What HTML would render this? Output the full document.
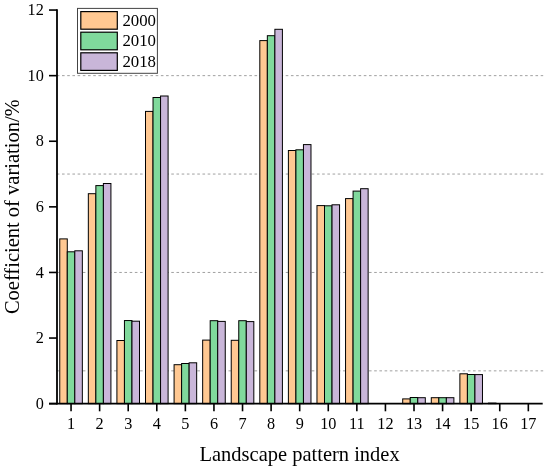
<!DOCTYPE html>
<html><head><meta charset="utf-8"><style>
html,body{margin:0;padding:0;background:#fff;width:550px;height:469px;overflow:hidden;}
svg{display:block;}
text{font-family:"Liberation Serif","Times New Roman",serif;fill:#000;}
.tk{font-size:17.5px;}
.tt{font-size:20.6px;}
.ty{font-size:20.5px;}
.lg{font-size:17.5px;}
</style></head><body>
<svg width="550" height="469" viewBox="0 0 550 469">
<rect x="0" y="0" width="550" height="469" fill="#fff"/>
<line x1="56.8" y1="370.85" x2="543.2" y2="370.85" stroke="#a0a0a0" stroke-width="1" stroke-dasharray="2.6 2.603"/>
<line x1="56.8" y1="272.45" x2="543.2" y2="272.45" stroke="#a0a0a0" stroke-width="1" stroke-dasharray="2.6 2.603"/>
<line x1="56.8" y1="174.05" x2="543.2" y2="174.05" stroke="#a0a0a0" stroke-width="1" stroke-dasharray="2.6 2.603"/>
<line x1="56.8" y1="75.65" x2="543.2" y2="75.65" stroke="#a0a0a0" stroke-width="1" stroke-dasharray="2.6 2.603"/>
<rect x="59.75" y="238.90" width="7.53" height="164.75" fill="#FFC892" stroke="#000" stroke-width="1"/>
<rect x="67.28" y="251.80" width="7.53" height="151.85" fill="#80D99C" stroke="#000" stroke-width="1"/>
<rect x="74.81" y="250.80" width="7.53" height="152.85" fill="#C9B6D9" stroke="#000" stroke-width="1"/>
<rect x="88.33" y="193.70" width="7.53" height="209.95" fill="#FFC892" stroke="#000" stroke-width="1"/>
<rect x="95.86" y="185.60" width="7.53" height="218.05" fill="#80D99C" stroke="#000" stroke-width="1"/>
<rect x="103.39" y="183.50" width="7.53" height="220.15" fill="#C9B6D9" stroke="#000" stroke-width="1"/>
<rect x="116.91" y="340.50" width="7.53" height="63.15" fill="#FFC892" stroke="#000" stroke-width="1"/>
<rect x="124.44" y="320.55" width="7.53" height="83.10" fill="#80D99C" stroke="#000" stroke-width="1"/>
<rect x="131.97" y="321.20" width="7.53" height="82.45" fill="#C9B6D9" stroke="#000" stroke-width="1"/>
<rect x="145.50" y="111.40" width="7.53" height="292.25" fill="#FFC892" stroke="#000" stroke-width="1"/>
<rect x="153.03" y="97.50" width="7.53" height="306.15" fill="#80D99C" stroke="#000" stroke-width="1"/>
<rect x="160.56" y="96.00" width="7.53" height="307.65" fill="#C9B6D9" stroke="#000" stroke-width="1"/>
<rect x="174.08" y="364.70" width="7.53" height="38.95" fill="#FFC892" stroke="#000" stroke-width="1"/>
<rect x="181.61" y="363.50" width="7.53" height="40.15" fill="#80D99C" stroke="#000" stroke-width="1"/>
<rect x="189.14" y="362.80" width="7.53" height="40.85" fill="#C9B6D9" stroke="#000" stroke-width="1"/>
<rect x="202.66" y="340.10" width="7.53" height="63.55" fill="#FFC892" stroke="#000" stroke-width="1"/>
<rect x="210.19" y="320.70" width="7.53" height="82.95" fill="#80D99C" stroke="#000" stroke-width="1"/>
<rect x="217.72" y="321.40" width="7.53" height="82.25" fill="#C9B6D9" stroke="#000" stroke-width="1"/>
<rect x="231.23" y="340.30" width="7.53" height="63.35" fill="#FFC892" stroke="#000" stroke-width="1"/>
<rect x="238.76" y="320.70" width="7.53" height="82.95" fill="#80D99C" stroke="#000" stroke-width="1"/>
<rect x="246.29" y="321.60" width="7.53" height="82.05" fill="#C9B6D9" stroke="#000" stroke-width="1"/>
<rect x="259.81" y="40.60" width="7.53" height="363.05" fill="#FFC892" stroke="#000" stroke-width="1"/>
<rect x="267.34" y="35.70" width="7.53" height="367.95" fill="#80D99C" stroke="#000" stroke-width="1"/>
<rect x="274.88" y="29.30" width="7.53" height="374.35" fill="#C9B6D9" stroke="#000" stroke-width="1"/>
<rect x="288.39" y="150.50" width="7.53" height="253.15" fill="#FFC892" stroke="#000" stroke-width="1"/>
<rect x="295.92" y="149.80" width="7.53" height="253.85" fill="#80D99C" stroke="#000" stroke-width="1"/>
<rect x="303.45" y="144.60" width="7.53" height="259.05" fill="#C9B6D9" stroke="#000" stroke-width="1"/>
<rect x="316.97" y="205.60" width="7.53" height="198.05" fill="#FFC892" stroke="#000" stroke-width="1"/>
<rect x="324.50" y="205.80" width="7.53" height="197.85" fill="#80D99C" stroke="#000" stroke-width="1"/>
<rect x="332.03" y="204.80" width="7.53" height="198.85" fill="#C9B6D9" stroke="#000" stroke-width="1"/>
<rect x="345.55" y="198.60" width="7.53" height="205.05" fill="#FFC892" stroke="#000" stroke-width="1"/>
<rect x="353.08" y="191.10" width="7.53" height="212.55" fill="#80D99C" stroke="#000" stroke-width="1"/>
<rect x="360.61" y="188.70" width="7.53" height="214.95" fill="#C9B6D9" stroke="#000" stroke-width="1"/>
<rect x="402.71" y="398.90" width="7.53" height="4.75" fill="#FFC892" stroke="#000" stroke-width="1"/>
<rect x="410.24" y="397.50" width="7.53" height="6.15" fill="#80D99C" stroke="#000" stroke-width="1"/>
<rect x="417.77" y="397.70" width="7.53" height="5.95" fill="#C9B6D9" stroke="#000" stroke-width="1"/>
<rect x="431.29" y="397.70" width="7.53" height="5.95" fill="#FFC892" stroke="#000" stroke-width="1"/>
<rect x="438.82" y="397.70" width="7.53" height="5.95" fill="#80D99C" stroke="#000" stroke-width="1"/>
<rect x="446.35" y="397.70" width="7.53" height="5.95" fill="#C9B6D9" stroke="#000" stroke-width="1"/>
<rect x="459.88" y="373.80" width="7.53" height="29.85" fill="#FFC892" stroke="#000" stroke-width="1"/>
<rect x="467.40" y="374.50" width="7.53" height="29.15" fill="#80D99C" stroke="#000" stroke-width="1"/>
<rect x="474.94" y="374.60" width="7.53" height="29.05" fill="#C9B6D9" stroke="#000" stroke-width="1"/>
<rect x="488.45" y="403.10" width="7.53" height="0.55" fill="#FFC892" stroke="#000" stroke-width="1"/>
<line x1="57" y1="9.2" x2="57" y2="404.45" stroke="#000" stroke-width="1.8"/>
<line x1="49" y1="403.65" x2="542.7" y2="403.65" stroke="#000" stroke-width="1.8"/>
<line x1="49" y1="403.65" x2="57" y2="403.65" stroke="#000" stroke-width="1.6"/>
<text transform="translate(43.8,408.75) scale(0.93,1)" text-anchor="end" class="tk">0</text>
<line x1="49" y1="338.05" x2="57" y2="338.05" stroke="#000" stroke-width="1.6"/>
<text transform="translate(43.8,343.15) scale(0.93,1)" text-anchor="end" class="tk">2</text>
<line x1="49" y1="272.45" x2="57" y2="272.45" stroke="#000" stroke-width="1.6"/>
<text transform="translate(43.8,277.55) scale(0.93,1)" text-anchor="end" class="tk">4</text>
<line x1="49" y1="206.85" x2="57" y2="206.85" stroke="#000" stroke-width="1.6"/>
<text transform="translate(43.8,211.95) scale(0.93,1)" text-anchor="end" class="tk">6</text>
<line x1="49" y1="141.25" x2="57" y2="141.25" stroke="#000" stroke-width="1.6"/>
<text transform="translate(43.8,146.35) scale(0.93,1)" text-anchor="end" class="tk">8</text>
<line x1="49" y1="75.65" x2="57" y2="75.65" stroke="#000" stroke-width="1.6"/>
<text transform="translate(43.8,80.75) scale(0.93,1)" text-anchor="end" class="tk">10</text>
<line x1="49" y1="10.05" x2="57" y2="10.05" stroke="#000" stroke-width="1.6"/>
<text transform="translate(43.8,15.15) scale(0.93,1)" text-anchor="end" class="tk">12</text>
<line x1="71.05" y1="403.65" x2="71.05" y2="411.3" stroke="#000" stroke-width="1.6"/>
<text transform="translate(71.05,429.1) scale(0.93,1)" text-anchor="middle" class="tk">1</text>
<line x1="99.63" y1="403.65" x2="99.63" y2="411.3" stroke="#000" stroke-width="1.6"/>
<text transform="translate(99.63,429.1) scale(0.93,1)" text-anchor="middle" class="tk">2</text>
<line x1="128.21" y1="403.65" x2="128.21" y2="411.3" stroke="#000" stroke-width="1.6"/>
<text transform="translate(128.21,429.1) scale(0.93,1)" text-anchor="middle" class="tk">3</text>
<line x1="156.79" y1="403.65" x2="156.79" y2="411.3" stroke="#000" stroke-width="1.6"/>
<text transform="translate(156.79,429.1) scale(0.93,1)" text-anchor="middle" class="tk">4</text>
<line x1="185.37" y1="403.65" x2="185.37" y2="411.3" stroke="#000" stroke-width="1.6"/>
<text transform="translate(185.37,429.1) scale(0.93,1)" text-anchor="middle" class="tk">5</text>
<line x1="213.95" y1="403.65" x2="213.95" y2="411.3" stroke="#000" stroke-width="1.6"/>
<text transform="translate(213.95,429.1) scale(0.93,1)" text-anchor="middle" class="tk">6</text>
<line x1="242.53" y1="403.65" x2="242.53" y2="411.3" stroke="#000" stroke-width="1.6"/>
<text transform="translate(242.53,429.1) scale(0.93,1)" text-anchor="middle" class="tk">7</text>
<line x1="271.11" y1="403.65" x2="271.11" y2="411.3" stroke="#000" stroke-width="1.6"/>
<text transform="translate(271.11,429.1) scale(0.93,1)" text-anchor="middle" class="tk">8</text>
<line x1="299.69" y1="403.65" x2="299.69" y2="411.3" stroke="#000" stroke-width="1.6"/>
<text transform="translate(299.69,429.1) scale(0.93,1)" text-anchor="middle" class="tk">9</text>
<line x1="328.27" y1="403.65" x2="328.27" y2="411.3" stroke="#000" stroke-width="1.6"/>
<text transform="translate(328.27,429.1) scale(0.93,1)" text-anchor="middle" class="tk">10</text>
<line x1="356.85" y1="403.65" x2="356.85" y2="411.3" stroke="#000" stroke-width="1.6"/>
<text transform="translate(356.85,429.1) scale(0.93,1)" text-anchor="middle" class="tk">11</text>
<line x1="385.43" y1="403.65" x2="385.43" y2="411.3" stroke="#000" stroke-width="1.6"/>
<text transform="translate(385.43,429.1) scale(0.93,1)" text-anchor="middle" class="tk">12</text>
<line x1="414.01" y1="403.65" x2="414.01" y2="411.3" stroke="#000" stroke-width="1.6"/>
<text transform="translate(414.01,429.1) scale(0.93,1)" text-anchor="middle" class="tk">13</text>
<line x1="442.59" y1="403.65" x2="442.59" y2="411.3" stroke="#000" stroke-width="1.6"/>
<text transform="translate(442.59,429.1) scale(0.93,1)" text-anchor="middle" class="tk">14</text>
<line x1="471.17" y1="403.65" x2="471.17" y2="411.3" stroke="#000" stroke-width="1.6"/>
<text transform="translate(471.17,429.1) scale(0.93,1)" text-anchor="middle" class="tk">15</text>
<line x1="499.75" y1="403.65" x2="499.75" y2="411.3" stroke="#000" stroke-width="1.6"/>
<text transform="translate(499.75,429.1) scale(0.93,1)" text-anchor="middle" class="tk">16</text>
<line x1="528.33" y1="403.65" x2="528.33" y2="411.3" stroke="#000" stroke-width="1.6"/>
<text transform="translate(528.33,429.1) scale(0.93,1)" text-anchor="middle" class="tk">17</text>
<text transform="translate(299.6,461.4) scale(0.995,1)" text-anchor="middle" class="tt">Landscape pattern index</text>
<text transform="translate(19,206.7) rotate(-90)" x="0" y="0" text-anchor="middle" class="ty">Coefficient of variation/%</text>
<rect x="77.5" y="8.4" width="79.9" height="64.9" fill="#fff" stroke="#444" stroke-width="1"/>
<rect x="80.8" y="11.60" width="36.5" height="17.6" fill="#FFC892" stroke="#000" stroke-width="1.2"/>
<text transform="translate(122.4,25.60) scale(0.96,1)" class="lg">2000</text>
<rect x="80.8" y="32.20" width="36.5" height="17.6" fill="#80D99C" stroke="#000" stroke-width="1.2"/>
<text transform="translate(122.4,46.35) scale(0.96,1)" class="lg">2010</text>
<rect x="80.8" y="52.80" width="36.5" height="17.6" fill="#C9B6D9" stroke="#000" stroke-width="1.2"/>
<text transform="translate(122.4,67.10) scale(0.96,1)" class="lg">2018</text>
</svg>
</body></html>
